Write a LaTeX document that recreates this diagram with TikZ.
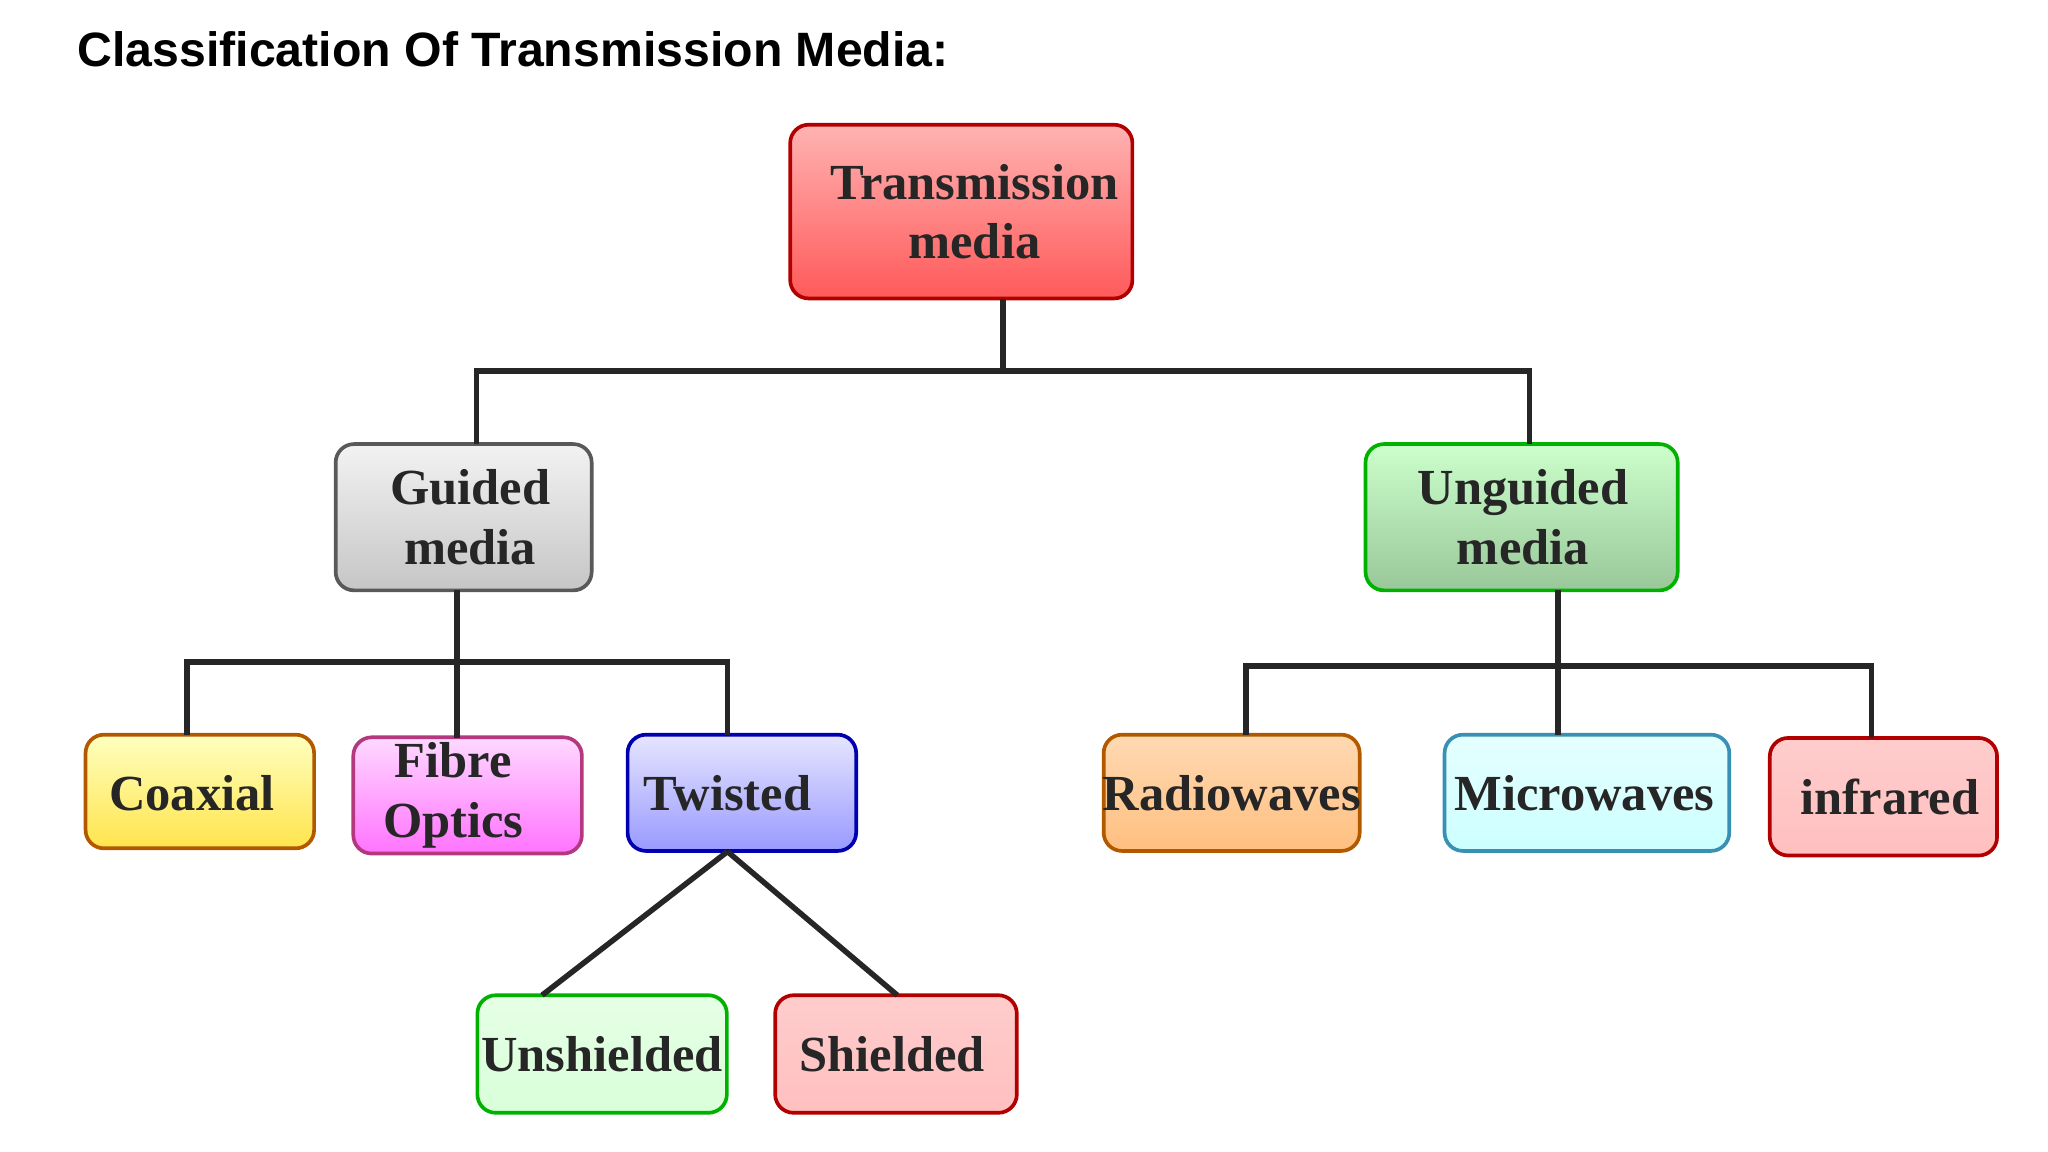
\documentclass[tikz,border=0pt]{standalone}
\usepackage{fontspec}
\setmainfont{Liberation Serif}
\newfontfamily\titlefont{Liberation Sans}
\begin{document}
\begin{tikzpicture}[x=0.01cm,y=-0.01cm,
  box/.style={draw=#1!70!black, rounded corners=4pt, line width=0.8pt, font=\bfseries\fontsize{11}{13}\selectfont, align=center, inner sep=0pt},
  con/.style={line width=1.2pt, draw=black!85}]
\useasboundingbox (0,0) rectangle (1568,882);
\node[anchor=west, font=\titlefont\bfseries\fontsize{10.5}{12}\selectfont] (title) at (47,38) {Classification Of Transmission Media:};
\newcommand{\bx}[8]{\node[box=#6, top color=#7, bottom color=#8, minimum width=#4*0.01cm, minimum height=#5*0.01cm] (#1) at (#2,#3) {};}
\bx{tm}{736}{162}{262}{133}{red}{red!30}{red!65}
\bx{gm}{355}{396}{196}{112}{gray}{gray!10}{gray!45}
\bx{um}{1165}{396}{239}{112}{green}{green!20}{green!45!black!40!white}
\bx{co}{153}{606}{175}{87}{orange}{yellow!25}{yellow!70!orange!70}
\bx{fo}{358}{609}{175}{89}{magenta}{magenta!15}{magenta!55}
\bx{tw}{568}{607}{175}{89}{blue}{blue!10}{blue!40}
\bx{ra}{943}{607}{196}{89}{orange}{orange!30}{orange!50}
\bx{mi}{1215}{607}{218}{89}{cyan}{cyan!10}{cyan!20}
\bx{in}{1442}{610}{174}{90}{red}{red!20}{red!25}
\bx{un}{461}{807}{191}{90}{green}{green!10}{green!15}
\bx{sh}{686}{807}{185}{90}{red}{red!20}{red!25}
\tikzset{lbl/.style={font=\bfseries\fontsize{11}{13}\selectfont, align=center, text=black!85}}
\node[lbl] (tmt) at (746,162) {Transmission\\media};
\node[lbl] (gmt) at (360,396) {Guided\\media};
\node[lbl] (umt) at (1166,396) {Unguided\\media};
\node[lbl] (cot) at (147,607) {Coaxial};
\node[lbl] (fot) at (347,609) {Fibre\\Optics};
\node[lbl] (twt) at (557,607) {Twisted};
\node[lbl] (rat) at (943,607) {Radiowaves};
\node[lbl] (mit) at (1213,607) {Microwaves};
\node[lbl] (int) at (1447,610) {infrared};
\node[lbl] (unt) at (461,807) {Unshielded};
\node[lbl] (sht) at (683,807) {Shielded};
\draw[con] (768,229) -- (768,284);
\draw[con] (365,340) -- (365,284) -- (1171,284) -- (1171,340);
\draw[con] (350,452) -- (350,565);
\draw[con] (143,563) -- (143,507) -- (557,507) -- (557,563);
\draw[con] (1193,452) -- (1193,563);
\draw[con] (954,563) -- (954,510) -- (1433,510) -- (1433,565);
\draw[con] (557,652) -- (415,762);
\draw[con] (557,652) -- (687,762);
\end{tikzpicture}
\end{document}
